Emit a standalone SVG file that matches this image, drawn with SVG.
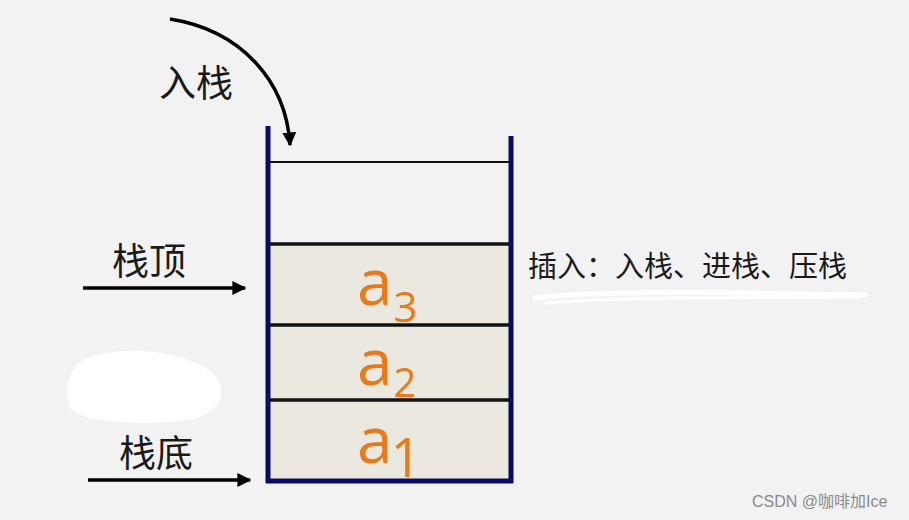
<svg xmlns="http://www.w3.org/2000/svg" width="909" height="520" viewBox="0 0 909 520">
<defs>
<style>
.cn{font-family:"Noto Sans CJK SC","Noto Sans",sans-serif;fill:#1a1a1a}
.lbl{font-family:"Open Sans","Noto Sans",sans-serif;fill:#e87a1c;font-weight:400}
.div{stroke:#111;stroke-width:3.5}
.wall{stroke:#0b0b66;stroke-width:5;fill:none}
.arr{stroke:#000;stroke-width:3.5;fill:none}
</style>
<marker id="ah" viewBox="0 0 10 10" refX="9" refY="5" markerWidth="4" markerHeight="4" markerUnits="strokeWidth" orient="auto">
<path d="M0,0 L10,5 L0,10 Z" fill="#000"/>
</marker>
</defs>
<rect width="909" height="520" fill="#f2f2f2"/>
<g id="stack">
<rect x="268" y="244" width="243" height="237" fill="#ebe9df"/>
<line x1="268" y1="162" x2="511" y2="162" stroke="#111" stroke-width="2"/>
<line class="div" x1="268" y1="244" x2="511" y2="244"/>
<line class="div" x1="268" y1="325" x2="511" y2="325"/>
<line class="div" x1="268" y1="400" x2="511" y2="400"/>
<line class="wall" x1="268" y1="126" x2="268" y2="483"/>
<line class="wall" x1="511" y1="136" x2="511" y2="483"/>
<line class="wall" x1="266" y1="481" x2="513" y2="481"/>
</g>
<g id="a3"><text class="lbl" x="357" y="305" font-size="64">a<tspan font-size="42" dy="17" dx="1">3</tspan></text></g>
<g id="a2"><text class="lbl" x="357" y="385" font-size="64">a<tspan font-size="40" dy="12" dx="1">2</tspan></text></g>
<g id="a1"><text class="lbl" x="357" y="463" font-size="64">a<tspan font-size="54" dy="14" dx="-2">1</tspan></text></g>
<g id="push-label"><text class="cn" x="159" y="97" font-size="37">入栈</text></g>
<g id="top-label"><text class="cn" x="112" y="275" font-size="37">栈顶</text></g>
<g id="bottom-label"><text class="cn" x="119" y="467" font-size="37">栈底</text></g>
<g id="insert-label"><text class="cn" x="528" y="277" font-size="29">插入：入栈、进栈、压栈</text></g>
<g id="scribbles" fill="none" stroke="#ffffff" stroke-linecap="round">
<path d="M90,360 C140,345 200,360 215,380 C225,400 210,415 180,418 C140,422 80,420 72,405 C65,385 75,365 90,360 Z" fill="#ffffff" stroke-width="6"/>
<path d="M535,298 C600,290 700,292 865,295" stroke-width="5"/>
<path d="M545,303 C620,297 720,298 860,297" stroke-width="3"/>
</g>
<g id="connectors">
<path class="arr" d="M170,19 C240,30 286,80 290,145" marker-end="url(#ah)"/>
<line class="arr" x1="83" y1="288" x2="245" y2="288" marker-end="url(#ah)"/>
<line class="arr" x1="88" y1="480" x2="250" y2="480" marker-end="url(#ah)"/>
</g>
<text x="752" y="507" font-family="'Liberation Sans','Noto Sans CJK SC',sans-serif" font-size="16" fill="#8a8a8a">CSDN @咖啡加Ice</text>
</svg>
